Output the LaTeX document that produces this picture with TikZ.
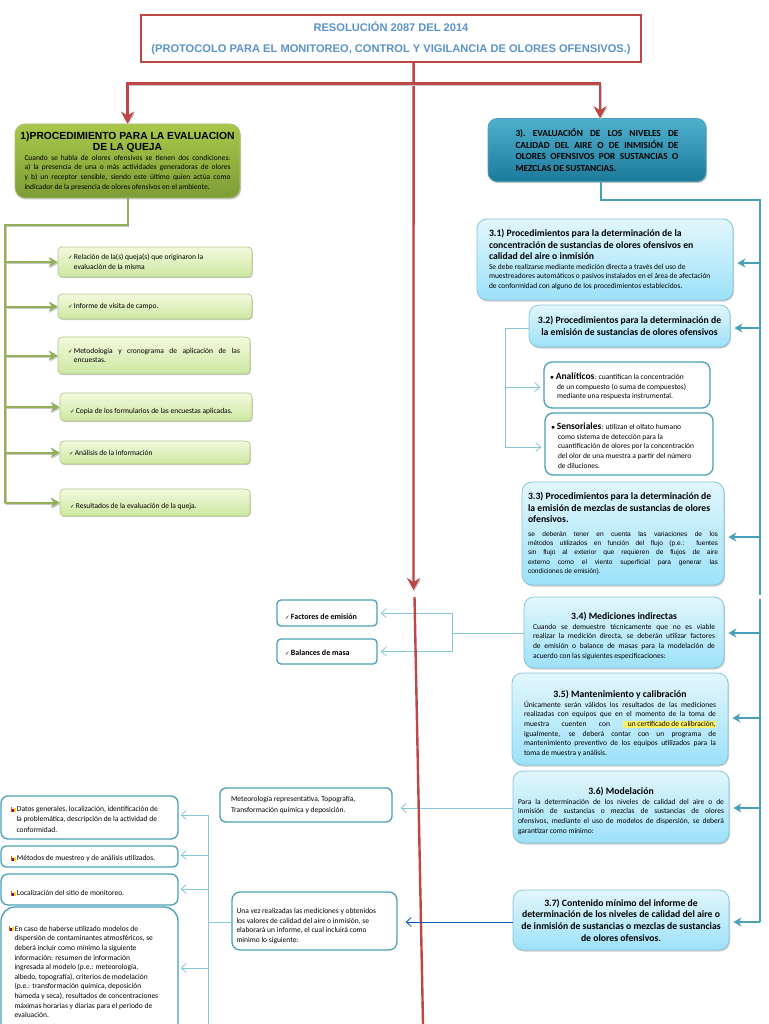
\documentclass[tikz,border=0pt]{standalone}
\usepackage{fontspec}
\setmainfont{Carlito}
\newfontfamily\arialfont{Liberation Sans}
\newfontfamily\checkfont{DejaVu Sans}
\usepackage{xcolor}
\usetikzlibrary{arrows.meta, calc, shadows}

\definecolor{redline}{HTML}{BC4744}
\definecolor{tealline}{HTML}{4A9FB8}
\definecolor{paleline}{HTML}{86C6DA}
\definecolor{greenline}{HTML}{93AF58}
\definecolor{titleblue}{HTML}{5B93C9}
\definecolor{markyellow}{HTML}{FFF36B}
\definecolor{greentop}{HTML}{A8C74A}
\definecolor{greenbot}{HTML}{7D9C36}
\definecolor{limetop}{HTML}{F3F9DE}
\definecolor{limebot}{HTML}{CDE7A0}
\definecolor{deeptop}{HTML}{4FB0CC}
\definecolor{deepbot}{HTML}{1C7A9B}
\definecolor{skytop}{HTML}{E2F6FC}
\definecolor{skybot}{HTML}{9CE1F9}

\newcommand{\headtxt}{\fontsize{9.7}{11.7}\selectfont\bfseries}
\newcommand{\bodytxt}{\fontsize{7.5}{9.6}\selectfont}
\newcommand{\chk}{{\checkfont\fontsize{5.5}{6}\selectfont ✓}\,}
\newcommand{\icon}{{\color{orange!80!black}\rule{1.8pt}{5pt}}{\color{violet}\rule{1.8pt}{3pt}}{\color{yellow!80!orange}\rule{1.6pt}{4pt}}\,}
\newcommand{\pad}[1]{\rule{0pt}{\dimexpr 7pt+#1\relax}}

\tikzset{
  x=1pt, y=-1pt,
  box/.style={shape=rectangle, rounded corners=7pt, inner sep=2pt, align=justify},
  greenbig/.style={box, rounded corners=10pt, draw=greenline!80!white, line width=0.8pt, top color=greentop, bottom color=greenbot, drop shadow={shadow xshift=1pt, shadow yshift=-1.5pt, opacity=.45}},
  greensmall/.style={box, rounded corners=4pt, draw=greenline!70!white, line width=0.7pt, top color=limetop, bottom color=limebot, drop shadow={shadow xshift=0.8pt, shadow yshift=-1.2pt, opacity=.4}},
  bluebig/.style={box, rounded corners=9pt, draw=tealline, line width=0.7pt, top color=deeptop, bottom color=deepbot, drop shadow={shadow xshift=1pt, shadow yshift=-1.5pt, opacity=.5}},
  bluesmall/.style={box, rounded corners=10pt, draw=paleline, line width=0.8pt, top color=skytop, bottom color=skybot, drop shadow={shadow xshift=1pt, shadow yshift=-1.5pt, opacity=.4}},
  whitebox/.style={box, draw=tealline, line width=1.3pt, fill=white},
  lineshadow/.style={preaction={draw=black!22, transform canvas={xshift=0.8pt, yshift=-1.4pt}}},
  redarrow/.style={lineshadow, draw=redline, line width=2.4pt, -{Stealth[length=12pt, width=13pt, inset=4pt]}},
  redplain/.style={draw=redline, line width=2.4pt},
  greenarrow/.style={lineshadow, draw=greenline, line width=2pt, -{Stealth[length=9pt, width=10pt, inset=3pt]}},
  greenplain/.style={lineshadow, draw=greenline, line width=2pt},
  tealarrow/.style={draw=tealline, line width=1.5pt, -{Stealth[length=8pt, width=9pt, inset=2.5pt]}},
  tealplain/.style={draw=tealline, line width=1.5pt},
  thinline/.style={draw=paleline, line width=0.8pt},
  thinarrow/.style={thinline, -{Straight Barb[length=5pt, width=9pt]}},
}

\begin{document}
\begin{tikzpicture}
\clip (0,0) rectangle (768,1024);
\fill[white] (0,0) rectangle (768,1024);

% title
\node (title) [shape=rectangle, draw=redline, line width=1.4pt, fill=white, minimum width=500pt, minimum height=47pt, inner sep=1pt, align=center, text=titleblue, font=\arialfont\bfseries\fontsize{11.1}{21}\selectfont] at (391,38.5) {RESOLUCIÓN 2087 DEL 2014\\(PROTOCOLO PARA EL MONITOREO, CONTROL Y VIGILANCIA DE OLORES OFENSIVOS.)};

% left branch
\node (green) [greenbig, minimum width=225pt, minimum height=74pt, text width=206pt] at (127.5,161) {{\arialfont\bfseries\fontsize{10.3}{11.5}\selectfont\centering \makebox[\linewidth]{1)PROCEDIMIENTO PARA LA EVALUACION}\\DE LA QUEJA\par}\bodytxt Cuando se habla de olores ofensivos se tienen dos condiciones:\linebreak a) la presencia de una o más actividades generadoras de olores\linebreak y b) un receptor sensible, siendo este último quien actúa como\linebreak indicador de la presencia de olores ofensivos en el ambiente.\par};

\node (g1) [greensmall, minimum width=194pt, minimum height=30pt, text width=174pt, align=flush left, font=\bodytxt] at (155,262) {\chk Relación de la(s) queja(s) que originaron la\\ \phantom{\chk}evaluación de la misma};
\node (g2) [greensmall, minimum width=194pt, minimum height=25pt, text width=174pt, align=flush left, font=\bodytxt] at (155,306.5) {\chk Informe de visita de campo.};
\node (g3) [greensmall, minimum width=192pt, minimum height=37pt, text width=172pt, font=\bodytxt] at (154,355.5) {\chk Metodología y cronograma de aplicación de las\linebreak \phantom{\chk}encuestas.};
\node (g4) [greensmall, minimum width=192pt, minimum height=28pt, text width=172pt, align=flush left, font=\bodytxt] at (156,407) {\pad{7pt}\chk Copia de los formularios de las encuestas aplicadas.};
\node (g5) [greensmall, minimum width=190pt, minimum height=23pt, text width=172pt, align=flush left, font=\bodytxt] at (155,452.5) {\chk Análisis de la información};
\node (g6) [greensmall, minimum width=190pt, minimum height=27pt, text width=170pt, align=flush left, font=\bodytxt] at (155,502.5) {\pad{7pt}\chk Resultados de la evaluación de la queja.};

\coordinate (gA) at (5,225);
\coordinate (gB) at (5,502.5);
\draw[greenplain] (green.south) |- (gA) -- (gB);
\foreach \n in {g1,g2,g3,g4,g5,g6}
  \draw[greenarrow] (gA |- \n.west) -- (\n.west);

% right branch
\node (blue) [bluebig, minimum width=218pt, minimum height=63pt, text width=163pt, font=\fontsize{9.3}{11.7}\selectfont\bfseries\frenchspacing] at (597,150) {3). EVALUACIÓN DE LOS NIVELES DE\linebreak CALIDAD DEL AIRE O DE INMISIÓN DE\linebreak OLORES OFENSIVOS POR SUSTANCIAS O\linebreak MEZCLAS DE SUSTANCIAS.};

\node (b31) [bluesmall, minimum width=256pt, minimum height=81pt, text width=232pt, align=flush left] at (605,259.5) {{\headtxt 3.1) Procedimientos para la determinación de la\\concentración de sustancias de olores ofensivos en\\calidad del aire o inmisión\par}\bodytxt Se debe realizarse mediante medición directa a través del uso de\\muestreadores automáticos o pasivos instalados en el área de afectación\\de conformidad con alguno de los procedimientos establecidos.\par};
\node (b32) [bluesmall, minimum width=201pt, minimum height=42pt, text width=190pt, align=flush center, font=\headtxt] at (629.5,326) {3.2) Procedimientos para la determinación de\\la emisión de sustancias de olores ofensivos};
\node (an) [whitebox, rounded corners=8pt, minimum width=166pt, minimum height=46pt, text width=154pt, align=flush left, font=\bodytxt] at (627,385) {\pad{3pt}$\bullet$ {\fontsize{9.5}{9.6}\selectfont\bfseries Analíticos}: cuantifican la concentración\\ \hspace*{7pt}de un compuesto (o suma de compuestos)\\ \hspace*{7pt}mediante una respuesta instrumental.};
\node (se) [whitebox, rounded corners=8pt, minimum width=168pt, minimum height=62pt, text width=156pt, align=flush left, font=\bodytxt] at (629,444) {\pad{3pt}$\bullet$ {\fontsize{9.5}{9.6}\selectfont\bfseries Sensoriales}: utilizan el olfato humano\\ \hspace*{7pt}como sistema de detección para la\\ \hspace*{7pt}cuantificación de olores por la concentración\\ \hspace*{7pt}del olor de una muestra a partir del número\\ \hspace*{7pt}de diluciones.};
\node (b33) [bluesmall, minimum width=202pt, minimum height=103pt, text width=190pt] at (623,533.5) {{\headtxt\raggedright 3.3) Procedimientos para la determinación de\\la emisión de mezclas de sustancias de olores\\ofensivos.\par}\vspace{4pt}{\arialfont\fontsize{6.6}{9.3}\selectfont se deberán tener en cuenta las variaciones de los\linebreak métodos utilizados en función del flujo (p.e.: fuentes\linebreak sin flujo al exterior que requieren de flujos de aire\linebreak externo como el viento superficial para generar las\linebreak condiciones de emisión).\par}};
\node (b34) [bluesmall, minimum width=200pt, minimum height=71pt, text width=182pt] at (624,632.5) {{\headtxt\centering \pad{7pt}3.4) Mediciones indirectas\par}\bodytxt Cuando se demuestre técnicamente que no es viable\linebreak realizar la medición directa, se deberán utilizar factores\linebreak de emisión o balance de masas para la modelación de\linebreak acuerdo con las siguientes especificaciones:\par};
\node (b35) [bluesmall, minimum width=216pt, minimum height=92pt, text width=192pt] at (620,719) {{\headtxt\centering \pad{9pt}3.5) Mantenimiento y calibración\par}\bodytxt Únicamente serán válidos los resultados de las mediciones\linebreak realizadas con equipos que en el momento de la toma de\linebreak muestra cuenten con \setlength{\fboxsep}{0.4pt}\colorbox{markyellow}{\hspace{5pt}un certificado de calibración,}\linebreak igualmente, se deberá contar con un programa de\linebreak mantenimiento preventivo de los equipos utilizados para la\linebreak toma de muestra y análisis.\par};
\node (b36) [bluesmall, minimum width=216pt, minimum height=72pt, text width=206pt] at (621,807) {{\headtxt\centering \pad{8pt}3.6) Modelación\par}\bodytxt Para la determinación de los niveles de calidad del aire o de\linebreak inmisión de sustancias o mezclas de sustancias de olores\linebreak ofensivos, mediante el uso de modelos de dispersión, se deberá\linebreak garantizar como mínimo:\par};
\node (b37) [bluesmall, minimum width=216pt, minimum height=60pt, text width=208pt, align=flush center, font=\headtxt] at (621,920) {3.7) Contenido mínimo del informe de\\determinación de los niveles de calidad del aire o\\de inmisión de sustancias o mezclas de sustancias\\de olores ofensivos.};

\coordinate (spA) at (760,200);
\coordinate (spM) at (760,595);
\coordinate (spN) at (760,599);
\coordinate (spB) at (760,922);
\draw[tealplain] ($(blue.south)+(4,0)$) |- (spA) -- (spM);
\draw[tealplain] (spN) -- (spB);
\foreach \n/\y in {b31/263,b32/328,b33/537,b34/633,b35/718,b36/808,b37/922}
  \draw[tealarrow, shorten >=4pt] (spA |- 0,\y) -- (\n.east |- 0,\y);

% 3.2 children
\coordinate (k32) at (505,328);
\draw[thinline] (b32.west |- k32) -- (k32);
\draw[thinarrow] (k32) |- ($(an.west)+(-3,2)$);
\draw[thinarrow] (k32) |- ($(se.west)+(-3,3)$);

% 3.4 children
\node (fa) [whitebox, rounded corners=4pt, minimum width=100pt, minimum height=26pt, text width=84pt, align=flush left, font=\fontsize{8}{8}\selectfont\bfseries] at (327,613) {\pad{6pt}\chk Factores de emisión};
\node (ba) [whitebox, rounded corners=4pt, minimum width=100pt, minimum height=25pt, text width=84pt, align=flush left, font=\fontsize{8}{8}\selectfont\bfseries] at (327,651.5) {\pad{2pt}\chk Balances de masa};
\coordinate (k34) at (452,633);
\draw[thinline] (b34.west |- k34) -- (k34);
\draw[thinarrow, shorten >=3pt] (k34) |- (fa.east);
\draw[thinarrow, shorten >=3pt] (k34) |- (ba.east);

% 3.6 and 3.7 children
\node (me) [whitebox, rounded corners=6pt, minimum width=172pt, minimum height=34pt, text width=150pt, align=flush left, font=\fontsize{7.5}{11.5}\selectfont] at (306,805) {Meteorología representativa, Topografía,\\Transformación química y deposición.};
\node (un) [whitebox, rounded corners=8pt, minimum width=165pt, minimum height=58pt, text width=156pt, align=flush left, font=\bodytxt] at (314.5,921) {\pad{8pt}Una vez realizadas las mediciones y obtenidos\\los valores de calidad del aire o inmisión, se\\elaborará un informe, el cual incluirá como\\mínimo lo siguiente:};
\draw[thinarrow, shorten >=8pt] (b36.west |- 0,808) -- (me.east |- 0,808);

% red trunk
\coordinate (rJ) at ($(title.south west)!0.545!(title.south east)+(0,21)$);
\coordinate (rE) at (413.5,590);
\coordinate (rS) at (414.5,597);
\coordinate (rF) at (423,1024);
\draw[redarrow] ($(title.south west)!0.545!(title.south east)$) -- (rE);
\draw[redplain] (rS) -- (rF);
\draw[redarrow] (rJ) -| (green.north);
\draw[redarrow] (rJ) -| ($(blue.north)+(3,0)$);

\draw[thinarrow, draw=blue!55!cyan!75!black, shorten >=8pt] (b37.west |- 0,922) -- (un.east |- 0,922);

% bottom left
\node (da) [whitebox, minimum width=177pt, minimum height=43pt, text width=158pt, align=flush left, font=\fontsize{7.5}{10.2}\selectfont] at (89.5,817.5) {\pad{2pt}\icon Datos generales, localización, identificación de\\ \hspace*{6pt}la problemática, descripción de la actividad de\\ \hspace*{6pt}conformidad.};
\node (mt) [whitebox, rounded corners=5pt, minimum width=177pt, minimum height=21pt, text width=158pt, align=flush left, font=\bodytxt] at (89.5,856.5) {\pad{3pt}\icon Métodos de muestreo y de análisis utilizados.};
\node (lo) [whitebox, minimum width=177pt, minimum height=31pt, text width=158pt, align=flush left, font=\bodytxt] at (89.5,889.5) {\pad{6pt}\icon Localización del sitio de monitoreo.};
\node (en) [whitebox, rounded corners=14pt, minimum width=177pt, minimum height=130pt, text width=162pt, align=flush left, font=\bodytxt] at (89.5,972) {\icon En caso de haberse utilizado modelos de\\ \hspace*{6pt}dispersión de contaminantes atmosféricos, se\\ \hspace*{6pt}deberá incluir como mínimo la siguiente\\ \hspace*{6pt}información: resumen de información\\ \hspace*{6pt}ingresada al modelo (p.e.: meteorología,\\ \hspace*{6pt}albedo, topografía), criterios de modelación\\ \hspace*{6pt}(p.e.: transformación química, deposición\\ \hspace*{6pt}húmeda y seca), resultados de concentraciones\\ \hspace*{6pt}máximas horarias y diarias para el periodo de\\ \hspace*{6pt}evaluación.\par\vspace{12pt}};

\coordinate (k37) at (208,922);
\coordinate (kT) at (208,815);
\coordinate (kB) at (208,1024);
\draw[thinline] (un.west |- k37) -- (k37);
\draw[thinline] (kT) -- (kB);
\foreach \n/\y in {da/815,mt/855,lo/889,en/968}
  \draw[thinarrow, shorten >=2pt] (kT |- 0,\y) -- (\n.east |- 0,\y);

\end{tikzpicture}
\end{document}
